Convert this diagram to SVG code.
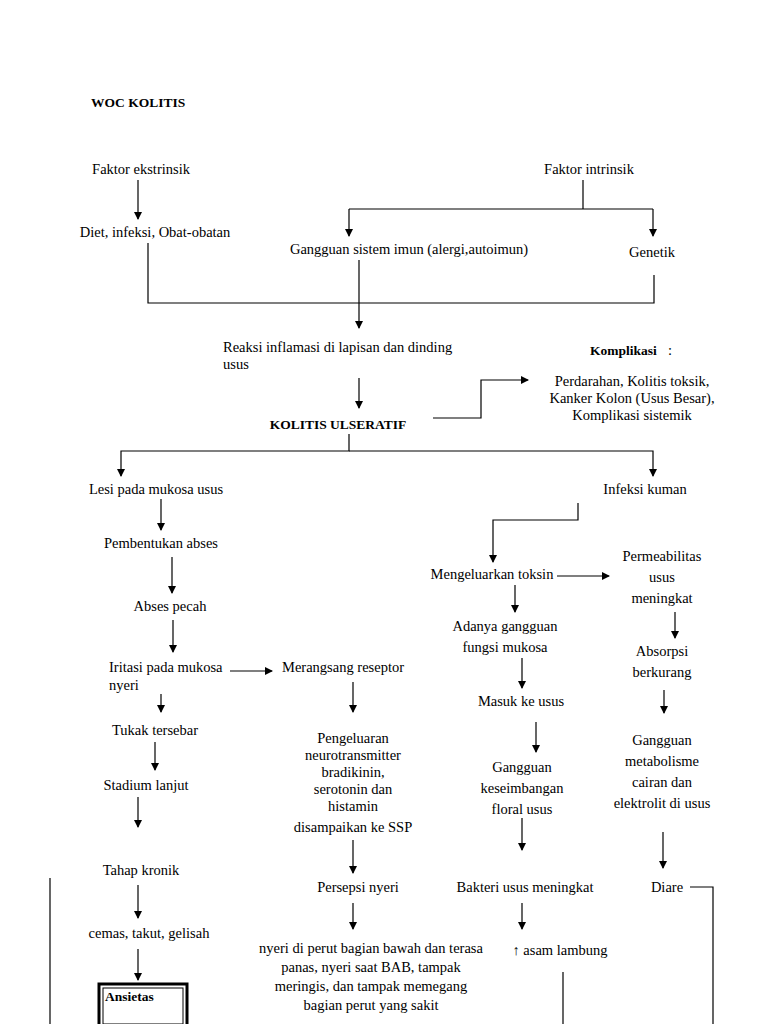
<svg xmlns="http://www.w3.org/2000/svg" width="768" height="1024" viewBox="0 0 768 1024">
<defs><marker id="a" markerWidth="8" markerHeight="8" refX="7" refY="4" orient="auto" markerUnits="userSpaceOnUse"><path d="M0,0 L8,4 L0,8 z" fill="#000"/></marker></defs>
<style>text{font-family:"Liberation Serif",serif;font-size:14.5px;fill:#000}.c{text-anchor:middle}.b{font-weight:bold;font-size:13.5px}.l{stroke:#000;stroke-width:1.2;fill:none}.ar{marker-end:url(#a)}</style>
<rect width="768" height="1024" fill="#fff"/>
<g id="title"><text x="91" y="107" class="b">WOC KOLITIS</text></g>
<g id="n1"><text x="141" y="174" class="c">Faktor ekstrinsik</text></g>
<g id="n2"><text x="589" y="174" class="c">Faktor intrinsik</text></g>
<g id="n3"><text x="155" y="237" class="c">Diet, infeksi, Obat-obatan</text></g>
<g id="n4"><text x="409" y="254" class="c">Gangguan sistem imun (alergi,autoimun)</text></g>
<g id="n5"><text x="652" y="257" class="c">Genetik</text></g>
<g id="n6"><text x="223" y="352">Reaksi inflamasi di lapisan dan dinding</text><text x="223" y="369">usus</text></g>
<g id="n7"><text x="590" y="355" class="b">Komplikasi</text><text x="668" y="355"> :</text></g>
<g id="n8"><text x="632" y="386" class="c">Perdarahan, Kolitis toksik,</text><text x="632" y="403" class="c">Kanker Kolon (Usus Besar),</text><text x="632" y="420" class="c">Komplikasi sistemik</text></g>
<g id="n9"><text x="338" y="429" class="c b">KOLITIS ULSERATIF</text></g>
<g id="n10"><text x="156" y="494" class="c">Lesi pada mukosa usus</text></g>
<g id="n11"><text x="645" y="494" class="c">Infeksi kuman</text></g>
<g id="n12"><text x="161" y="548" class="c">Pembentukan abses</text></g>
<g id="n13"><text x="492" y="579" class="c">Mengeluarkan toksin</text></g>
<g id="n14"><text x="662" y="561" class="c">Permeabilitas</text><text x="662" y="582" class="c">usus</text><text x="662" y="603" class="c">meningkat</text></g>
<g id="n15"><text x="170" y="611" class="c">Abses pecah</text></g>
<g id="n16"><text x="505" y="631" class="c">Adanya gangguan</text><text x="505" y="652" class="c">fungsi mukosa</text></g>
<g id="n17"><text x="662" y="656" class="c">Absorpsi</text><text x="662" y="677" class="c">berkurang</text></g>
<g id="n18"><text x="109" y="672">Iritasi pada mukosa</text><text x="109" y="690">nyeri</text></g>
<g id="n19"><text x="343" y="672" class="c">Merangsang reseptor</text></g>
<g id="n20"><text x="521" y="706" class="c">Masuk ke usus</text></g>
<g id="n21"><text x="155" y="735" class="c">Tukak tersebar</text></g>
<g id="n22"><text x="353" y="743" class="c">Pengeluaran</text><text x="353" y="760" class="c">neurotransmitter</text><text x="353" y="777" class="c">bradikinin,</text><text x="353" y="794" class="c">serotonin dan</text><text x="353" y="811" class="c">histamin</text><text x="353" y="832" class="c">disampaikan ke SSP</text></g>
<g id="n23"><text x="662" y="745" class="c">Gangguan</text><text x="662" y="766" class="c">metabolisme</text><text x="662" y="787" class="c">cairan dan</text><text x="662" y="808" class="c">elektrolit di usus</text></g>
<g id="n24"><text x="522" y="772" class="c">Gangguan</text><text x="522" y="793" class="c">keseimbangan</text><text x="522" y="814" class="c">floral usus</text></g>
<g id="n25"><text x="146" y="790" class="c">Stadium lanjut</text></g>
<g id="n26"><text x="141" y="875" class="c">Tahap kronik</text></g>
<g id="n27"><text x="358" y="892" class="c">Persepsi nyeri</text></g>
<g id="n28"><text x="525" y="892" class="c">Bakteri usus meningkat</text></g>
<g id="n29"><text x="667" y="892" class="c">Diare</text></g>
<g id="n30"><text x="149" y="938" class="c">cemas, takut, gelisah</text></g>
<g id="n31"><text x="371" y="953" class="c">nyeri di perut bagian bawah dan terasa</text><text x="371" y="972" class="c">panas, nyeri saat BAB, tampak</text><text x="371" y="991" class="c">meringis, dan tampak memegang</text><text x="371" y="1010" class="c">bagian perut yang sakit</text></g>
<g id="n32"><text x="560" y="955" class="c">↑ asam lambung</text></g>
<g id="n33"><rect x="99" y="984" width="88" height="44" fill="none" stroke="#000" stroke-width="3"/><rect x="103" y="988" width="80" height="36" fill="none" stroke="#000" stroke-width="1"/><text x="105" y="1001" class="b">Ansietas</text></g>
<g id="connectors">
<path class="l ar" d="M138,180 V219"/>
<path class="l ar" d="M583,180 V209 M349,209 H653 M349,209 V236"/>
<path class="l ar" d="M653,209 V236"/>
<path class="l" d="M148,243 V303 H654 V275"/>
<path class="l ar" d="M359,260 V328"/>
<path class="l ar" d="M359,378 V408"/>
<path class="l ar" d="M433,418 H481 V380 H528"/>
<path class="l ar" d="M349,434 V451 H121 V476"/>
<path class="l ar" d="M349,451 H653 V476"/>
<path class="l ar" d="M161,499 V530"/>
<path class="l ar" d="M578,503 V520 H493 V562"/>
<path class="l ar" d="M172,557 V593"/>
<path class="l ar" d="M557,576 H609"/>
<path class="l ar" d="M173,620 V652"/>
<path class="l ar" d="M515,585 V612"/>
<path class="l ar" d="M675,612 V638"/>
<path class="l ar" d="M230,671 H272"/>
<path class="l ar" d="M161,694 V712"/>
<path class="l ar" d="M522,658 V688"/>
<path class="l ar" d="M353,682 V712"/>
<path class="l ar" d="M664,690 V713"/>
<path class="l ar" d="M536,722 V752"/>
<path class="l ar" d="M155,742 V770"/>
<path class="l ar" d="M138,797 V827"/>
<path class="l ar" d="M522,818 V850"/>
<path class="l ar" d="M353,840 V873"/>
<path class="l ar" d="M663,832 V868"/>
<path class="l" d="M690,887 H713 V1024"/>
<path class="l ar" d="M138,885 V918"/>
<path class="l ar" d="M522,903 V929"/>
<path class="l ar" d="M353,903 V929"/>
<path class="l ar" d="M138,949 V980"/>
<path class="l" d="M50,878 V1024"/>
<path class="l" d="M563,972 V1024"/>
</g>
</svg>
